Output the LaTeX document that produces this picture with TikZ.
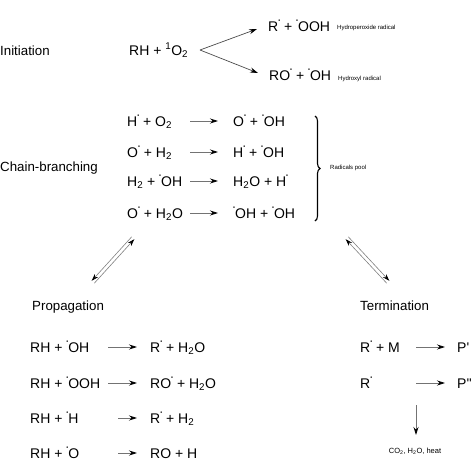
\documentclass[tikz,border=0pt]{standalone}
\usepackage{fontspec}
\setmainfont{Liberation Sans}
\usetikzlibrary{arrows.meta,decorations.pathreplacing}

\newcommand{\rad}{\raisebox{0.6em}{\scalebox{0.4}{\textbullet}}}
\newcommand{\sub}[1]{\textsubscript{#1}}
\newcommand{\prm}{\textquotesingle}

\tikzset{
  chem/.style={anchor=base west, inner sep=0pt, font=\fontsize{14}{16}\selectfont},
  stage/.style={anchor=base west, inner sep=0pt, font=\fontsize{13.3}{16}\selectfont},
  note/.style={anchor=base west, inner sep=0pt, font=\fontsize{6}{7}\selectfont},
  react/.style={draw=black!55, line width=0.8pt, -{Stealth[black,length=8pt,width=5pt]}},
  initarrow/.style={draw=black!70, line width=0.7pt, -{Stealth[black,length=8pt,width=5pt]}},
  eqarrow/.style={draw=black!50, line width=0.6pt, -{Stealth[black,length=7pt,width=4.5pt]}},
}

\begin{document}
\begin{tikzpicture}[x=1pt,y=-1pt]
\useasboundingbox (0,0) rectangle (474,474);

% Initiation
\node[stage] (init) at (0,55) {Initiation};
\node[chem] (rho) at (129,55) {RH + \textsuperscript{1}O\sub{2}};
\node[chem] (rooh) at (268,31) {R\rad{} + \rad OOH};
\node[note] (hpr) at (337,29) {Hydroperoxide radical};
\node[chem] (rooh2) at (269,80) {RO\rad{} + \rad OH};
\node[note] (hyr) at (338,80) {Hydroxyl radical};

\coordinate (fork) at (200,50);
\coordinate (up) at (257,29);
\coordinate (dn) at (258,73);
\draw[initarrow] (fork) -- (up);
\draw[initarrow] (fork) -- (dn);

% Chain-branching
\node[stage] (chain) at (0,171) {Chain-branching};
\foreach \lhs/\rhs/\y in {H\rad{} + O\sub{2}/O\rad{} + \rad OH/126,
                          O\rad{} + H\sub{2}/H\rad{} + \rad OH/157,
                          H\sub{2} + \rad OH/H\sub{2}O + H\rad/186,
                          O\rad{} + H\sub{2}O/\rad OH + \rad OH/218} {
  \node[chem] (cl\y) at (127,\y) {\lhs};
  \node[chem] (cr\y) at (233,\y) {\rhs};
  \coordinate (ca\y) at (190,\y-5);
  \coordinate (cb\y) at (218,\y-5);
  \draw[react] (ca\y) -- (cb\y);
}

% Radicals pool
\coordinate (bt) at (315,116);
\coordinate (bb) at (315,221);
\draw[decorate, decoration={brace, amplitude=5pt}, line width=1.1pt] (bt) -- (bb);
\node[note] (pool) at (330,169) {Radicals pool};

% Equilibrium arrows
\coordinate (pl1) at (93,282);
\coordinate (pl2) at (133,238);
\draw[eqarrow] ([shift={(1.3,1.2)}]pl1) -- ([shift={(1.3,1.2)}]pl2);
\draw[eqarrow] ([shift={(-1.3,-1.2)}]pl2) -- ([shift={(-1.3,-1.2)}]pl1);
\coordinate (pr1) at (347,238);
\coordinate (pr2) at (388,282);
\draw[eqarrow] ([shift={(-1.3,1.2)}]pr2) -- ([shift={(-1.3,1.2)}]pr1);
\draw[eqarrow] ([shift={(1.3,-1.2)}]pr1) -- ([shift={(1.3,-1.2)}]pr2);

% Propagation
\node[stage] (prop) at (32,310) {Propagation};
\foreach \lhs/\rhs/\y/\s in {RH + \rad OH/R\rad{} + H\sub{2}O/352/108,
                             RH + \rad OOH/RO\rad{} + H\sub{2}O/388/108,
                             RH + \rad H/R\rad{} + H\sub{2}/423/118,
                             RH + \rad O/RO + H/458/118} {
  \node[chem] (pl\y) at (30,\y) {\lhs};
  \node[chem] (pr\y) at (150,\y) {\rhs};
  \coordinate (pa\y) at (\s,\y-5);
  \coordinate (pb\y) at (137,\y-5);
  \draw[react] (pa\y) -- (pb\y);
}

% Termination
\node[stage] (term) at (360,310) {Termination};
\node[chem] (rm) at (360,352) {R\rad{} + M};
\node[chem] (p1) at (457,352) {P\prm};
\node[chem] (rr) at (360,388) {R\rad};
\node[chem] (p2) at (457,388) {P\prm\prm};
\coordinate (ta1) at (416,347);
\coordinate (tb1) at (445,347);
\coordinate (ta2) at (416,383);
\coordinate (tb2) at (445,383);
\draw[react] (ta1) -- (tb1);
\draw[react] (ta2) -- (tb2);

\coordinate (dtop) at (416,405);
\coordinate (dbot) at (416,435);
\draw[react] (dtop) -- (dbot);
\node[anchor=base, inner sep=0pt, font=\fontsize{7.5}{9}\selectfont] (heat) at (415,453) {CO\sub{2}, H\sub{2}O, heat};

\end{tikzpicture}
\end{document}
